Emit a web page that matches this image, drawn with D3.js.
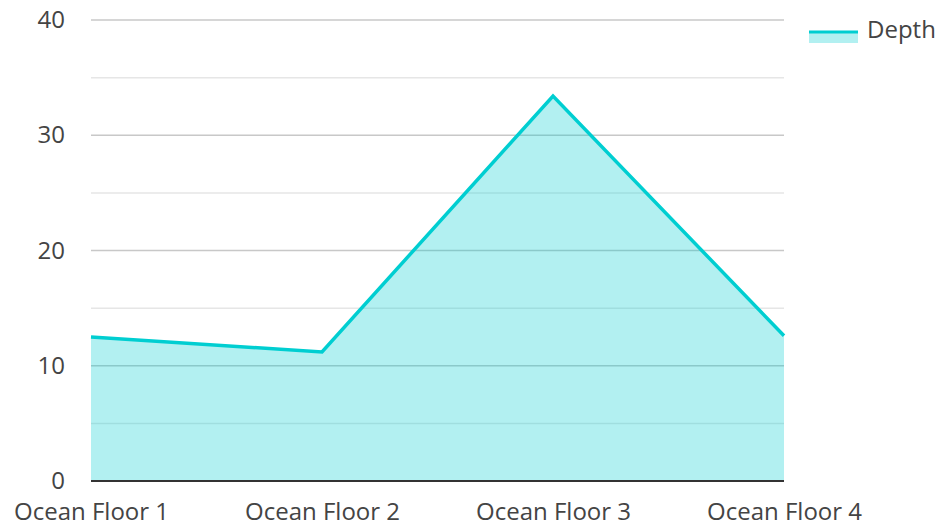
<!DOCTYPE html>
<html>
<head>
<meta charset="utf-8">
<script src="https://cdn.jsdelivr.net/npm/d3@7"></script>
<style>
  html, body { margin: 0; padding: 0; background: #fff; }
  svg { display: block; font-family: "Open Sans", sans-serif; }
</style>
</head>
<body>
<svg id="chart" width="937" height="520"></svg>
<script>
// Depth readings per location
const categories = ["Ocean Floor 1", "Ocean Floor 2", "Ocean Floor 3", "Ocean Floor 4"];
const depthValues = [12.5, 11.2, 33.4, 12.6];
const majorTicks = [0, 10, 20, 30, 40];
const minorTicks = [5, 15, 25, 35];
const seriesName = "Depth";

const lineColor = "#00ced1";
const fillColor = "rgba(0, 206, 209, 0.3)";

const svg = d3.select("#chart");
const margin = { left: 91, right: 153, top: 20, bottom: 39 };
const W = 937, H = 520;

const x = d3.scalePoint().domain(categories).range([margin.left, W - margin.right]);
const y = d3.scaleLinear().domain([0, 40]).range([H - margin.bottom, margin.top]);

// minor gridlines
svg.append("g").selectAll("line").data(minorTicks).join("line")
  .attr("x1", margin.left).attr("x2", W - margin.right)
  .attr("y1", d => y(d)).attr("y2", d => y(d))
  .attr("stroke", "#e6e6e6").attr("stroke-width", 1.5);

// major gridlines
svg.append("g").selectAll("line").data(majorTicks.filter(d => d > 0)).join("line")
  .attr("x1", margin.left).attr("x2", W - margin.right)
  .attr("y1", d => y(d)).attr("y2", d => y(d))
  .attr("stroke", "#c8c8c8").attr("stroke-width", 1.5);

// area fill
const area = d3.area()
  .x((d, i) => x(categories[i]))
  .y0(y(0))
  .y1(d => y(d));
svg.append("path").datum(depthValues)
  .attr("d", area)
  .attr("fill", fillColor);

// line
const line = d3.line()
  .x((d, i) => x(categories[i]))
  .y(d => y(d));
svg.append("path").datum(depthValues)
  .attr("d", line)
  .attr("fill", "none")
  .attr("stroke", lineColor)
  .attr("stroke-width", 3.5)
  .attr("stroke-linejoin", "miter");

// baseline
svg.append("line")
  .attr("x1", margin.left).attr("x2", W - margin.right)
  .attr("y1", y(0)).attr("y2", y(0))
  .attr("stroke", "#333").attr("stroke-width", 2);

// y axis labels
const yAxis = d3.axisLeft(y).tickValues(majorTicks).tickSize(0).tickPadding(26);
const yg = svg.append("g").attr("transform", `translate(${margin.left},0)`).call(yAxis);
yg.select(".domain").remove();
yg.selectAll("text").attr("font-size", 24).attr("fill", "#444").attr("font-family", "Open Sans, sans-serif");

// x axis labels
const xAxis = d3.axisBottom(x).tickSize(0).tickPadding(22);
const xg = svg.append("g").attr("transform", `translate(0,${y(0)})`).call(xAxis);
xg.select(".domain").remove();
xg.selectAll("text").attr("font-size", 24).attr("fill", "#444").attr("font-family", "Open Sans, sans-serif");

// legend
const lg = svg.append("g").attr("transform", "translate(809,31)");
lg.append("rect").attr("x", 0).attr("y", 0).attr("width", 49).attr("height", 12).attr("fill", fillColor);
lg.append("line").attr("x1", 0).attr("x2", 49).attr("y1", 1).attr("y2", 1)
  .attr("stroke", lineColor).attr("stroke-width", 3);
lg.append("text").attr("x", 58).attr("y", 7).attr("font-size", 24).attr("fill", "#444")
  .text(seriesName);
</script>
</body>
</html>
